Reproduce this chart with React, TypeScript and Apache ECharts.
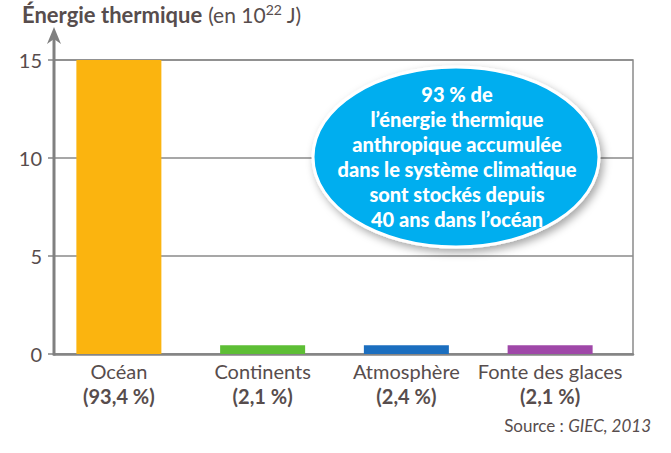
import React, { useEffect, useRef } from "react";
import * as echarts from "echarts";

const categories = ["Océan", "Continents", "Atmosphère", "Fonte des glaces"];
const shares = ["93,4 %", "2,1 %", "2,4 %", "2,1 %"];
const values = [15, 0.45, 0.45, 0.45];
const barColors = ["#FBB40F", "#5DBE35", "#1B6EBF", "#9F47A8"];
const yMin = 0;
const yMax = 15;
const yStep = 5;
const calloutLines = [
  "93 % de",
  "l’énergie thermique",
  "anthropique accumulée",
  "dans le système climatique",
  "sont stockés depuis",
  "40 ans dans l’océan",
];
const titleMain = "Énergie thermique";
const titleUnit = "(en 10";
const titleExp = "22";
const titleEnd = " J)";
const sourceLabel = "Source : ";
const sourceRef = "GIEC, 2013";

const TEXT = "#574d4d";
const GRAYLINE = "#8a8a8a";
const FONT = "Lato, 'Open Sans', sans-serif";

export default function App() {
  const ref = useRef<HTMLDivElement>(null);
  useEffect(() => {
    if (!ref.current) return;
    const chart = echarts.init(ref.current, undefined, { renderer: "svg" });
    chart.setOption({
      animation: false,
      backgroundColor: "#ffffff",
      textStyle: { fontFamily: FONT },
      grid: [
        { left: 54, top: 60, width: 579, height: 294, show: true, borderColor: GRAYLINE, borderWidth: 1.5 },
        { left: 47, top: 60, width: 575, height: 294 },
      ],
      xAxis: [
        {
          gridIndex: 0,
          type: "category",
          data: categories,
          axisLine: { show: true, lineStyle: { color: "#858585", width: 2.5 } },
          axisTick: { show: false },
          axisLabel: { show: false },
          splitLine: { show: false },
        },
        {
          gridIndex: 1,
          type: "category",
          data: categories,
          axisLine: { show: false },
          axisTick: { show: false },
          splitLine: { show: false },
          axisLabel: {
            margin: 4,
            interval: 0,
            formatter: (v: string, i: number) => `{a|${v}}\n{b|(${shares[i]})}`,
            rich: {
              a: { fontFamily: FONT, fontSize: 20, color: TEXT, lineHeight: 25 },
              b: { fontFamily: FONT, fontSize: 20, fontWeight: "bold", color: TEXT, lineHeight: 25 },
            },
          },
        },
      ],
      yAxis: [
        {
          gridIndex: 0,
          type: "value",
          min: yMin,
          max: yMax,
          interval: yStep,
          axisLine: { show: false },
          axisTick: { show: true, length: 6, lineStyle: { color: "#858585", width: 1.5 } },
          axisLabel: { color: TEXT, fontSize: 20, fontFamily: FONT, margin: 12 },
          splitLine: { show: true, lineStyle: { color: GRAYLINE, width: 1.5 } },
        },
        { gridIndex: 1, type: "value", min: yMin, max: yMax, show: false, splitLine: { show: false } },
      ],
      series: [
        {
          type: "bar",
          xAxisIndex: 1,
          yAxisIndex: 1,
          barWidth: 85,
          data: values.map((v, i) => ({ value: v, itemStyle: { color: barColors[i] } })),
        },
      ],
      graphic: [
        {
          type: "line",
          shape: { x1: 54, y1: 355.5, x2: 54, y2: 36 },
          style: { stroke: "#808080", lineWidth: 3 },
          z: 10,
        },
        {
          type: "polygon",
          shape: { points: [[54, 27], [61, 44], [54, 39], [47, 44]] },
          style: { fill: "#808080" },
          z: 10,
        },
        {
          type: "text",
          left: 22,
          top: 2,
          style: {
            text: `{t|${titleMain}}{g| }{n|${titleUnit}}{s|${titleExp}}{n|${titleEnd}}`,
            rich: {
              t: { fontFamily: FONT, fontSize: 22, fontWeight: "bold", fill: TEXT },
              g: { fontFamily: FONT, fontSize: 20, fill: TEXT, width: 6 },
              n: { fontFamily: FONT, fontSize: 21, fill: TEXT },
              s: { fontFamily: FONT, fontSize: 14, fill: TEXT, padding: [0, 0, 10, 0] },
            },
          },
        },
        {
          type: "ellipse",
          shape: { cx: 456, cy: 157, rx: 143, ry: 90 },
          style: {
            fill: "#00AEEF",
            stroke: "#ffffff",
            lineWidth: 3,
            shadowBlur: 8,
            shadowOffsetX: 3,
            shadowOffsetY: 4,
            shadowColor: "rgba(0,0,0,0.35)",
          },
          z: 20,
        },
        {
          type: "text",
          x: 457,
          y: 156,
          style: {
            text: calloutLines.join("\n"),
            align: "center",
            verticalAlign: "middle",
            fill: "#ffffff",
            fontFamily: FONT,
            fontWeight: 900,
            fontSize: 20,
            lineHeight: 25,
          },
          z: 21,
        },
        {
          type: "text",
          right: 20,
          top: 417,
          style: {
            text: `{n|${sourceLabel}}{i|${sourceRef}}`,
            rich: {
              n: { fontFamily: FONT, fontSize: 17, fill: TEXT },
              i: { fontFamily: FONT, fontSize: 17, fontStyle: "italic", fill: TEXT },
            },
          },
        },
      ],
    });
    return () => chart.dispose();
  }, []);
  return (
    <div
      ref={ref}
      style={{ position: "absolute", left: 0, top: 0, width: 671, height: 453 }}
    />
  );
}
